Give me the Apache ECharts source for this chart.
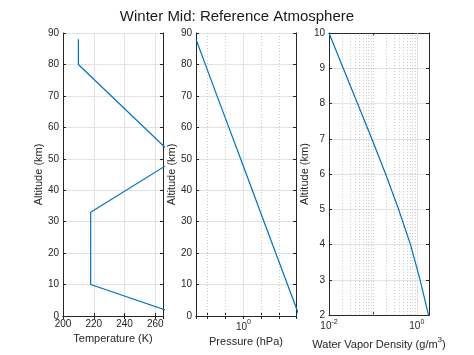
<!DOCTYPE html>
<html>
<head>
<meta charset="utf-8">
<script src="https://cdn.jsdelivr.net/npm/echarts@6/dist/echarts.min.js"></script>
<style>html,body{margin:0;padding:0;background:#fff;}#c{width:474px;height:355px;}</style>
</head>
<body>
<div id="c"></div>
<script>
// ---- data ----
const chartTitle = 'Winter Mid: Reference Atmosphere';

const tempK   = [278, 218, 218, 274, 210, 210];
const tempAlt = [0, 10, 33, 50, 80, 88];

const pressureHPa = [1300, 286, 14.1, 0.70, 0.034, 0.0023];
const pressureAlt = [0, 10, 30, 50, 70, 88];

const vaporDensity = [1.85, 1.19, 0.72, 0.385, 0.195, 0.0944, 0.0447, 0.0211, 0.01];
const vaporAlt     = [2, 3, 4, 5, 6, 7, 8, 9, 10];

// axis decorations
const pressureMajorGrid = [1];
const pressureMinorGrid = [0.01, 0.1, 10, 100];
const pressureLabelExps = [0];
const vaporMajorGrid = [1];
const vaporMinorGrid = [0.02,0.03,0.04,0.05,0.06,0.07,0.08,0.09,0.1,0.2,0.3,0.4,0.5,0.6,0.7,0.8,0.9];
const vaporLabelExps = [-2, 0];

const AX = '#262626';
const GRID = '#e2e2e2';
const MINOR = '#c8c8c8';
const LINE = '#0072BD';
const FONT = 'Liberation Sans, Arial, Helvetica, sans-serif';

const grids = [
  {left: 63, top: 33, width: 100, height: 283},
  {left: 196, top: 33, width: 100, height: 283},
  {left: 329, top: 33, width: 100, height: 283}
];

const supRich = {
  b: {fontSize: 10, color: AX, fontFamily: FONT, verticalAlign: 'bottom', padding: [3, 0, 0, 0]},
  s: {fontSize: 7, color: AX, fontFamily: FONT, verticalAlign: 'top'}
};
function logFormatter(exps) {
  return function (v) {
    const l = Math.log10(v);
    const e = Math.round(l);
    if (Math.abs(l - e) > 1e-6) return '';
    if (exps.indexOf(e) < 0) return '';
    return '{b|10}{s|' + e + '}';
  };
}
const tickStyle = {show: true, inside: true, length: 3, lineStyle: {color: AX, width: 1}};
const lineStyleAx = {show: true, lineStyle: {color: AX, width: 1}};
const nameStyle = {fontSize: 11, color: AX, fontFamily: FONT};

function mirrorX(base, gi) {
  return Object.assign({}, base, {gridIndex: gi, position: 'top', name: '', axisLabel: {show: false},
    splitLine: {show: false}, axisLine: lineStyleAx, axisTick: tickStyle});
}
function mirrorY(base, gi) {
  return Object.assign({}, base, {gridIndex: gi, position: 'right', name: '', axisLabel: {show: false},
    splitLine: {show: false}, axisLine: lineStyleAx, axisTick: tickStyle});
}

const x0 = {type: 'value', gridIndex: 0, min: 200, max: 265, interval: 20, position: 'bottom',
  axisLine: lineStyleAx, axisTick: tickStyle,
  axisLabel: {color: AX, fontSize: 10, fontFamily: FONT, margin: 3, showMaxLabel: false},
  splitLine: {show: true, lineStyle: {color: GRID, width: 1}},
  name: 'Temperature (K)', nameLocation: 'middle', nameGap: 12, nameTextStyle: nameStyle};
const x1 = {type: 'log', logBase: 10, gridIndex: 1, min: 0.0023, max: 850, position: 'bottom',
  axisLine: lineStyleAx, axisTick: tickStyle,
  axisLabel: {formatter: logFormatter(pressureLabelExps), rich: supRich, margin: 3, showMaxLabel: false, showMinLabel: false},
  splitLine: {show: false},
  name: 'Pressure (hPa)', nameLocation: 'middle', nameGap: 16, nameTextStyle: nameStyle};
const x2 = {type: 'log', logBase: 10, gridIndex: 2, min: 0.01, max: 1.9, position: 'bottom',
  axisLine: lineStyleAx, axisTick: tickStyle,
  axisLabel: {formatter: logFormatter(vaporLabelExps), rich: supRich, margin: 3, showMaxLabel: false},
  splitLine: {show: false},
  name: '{n|Water Vapor Density (g/m}{s|3}{n|)}', nameLocation: 'middle', nameGap: 16,
  nameTextStyle: {fontSize: 11, color: AX, fontFamily: FONT, rich: {
    n: {fontSize: 11, color: AX, fontFamily: FONT, verticalAlign: 'bottom', padding: [3, 0, 0, 0]},
    s: {fontSize: 8, color: AX, fontFamily: FONT, verticalAlign: 'top'}}}};

function yAxisFor(gi, min, max, interval) {
  return {type: 'value', gridIndex: gi, min: min, max: max, interval: interval, position: 'left',
    axisLine: lineStyleAx, axisTick: tickStyle,
    axisLabel: {color: AX, fontSize: 10, fontFamily: FONT, margin: 4},
    splitLine: {show: true, lineStyle: {color: GRID, width: 1}},
    name: 'Altitude (km)', nameLocation: 'middle', nameGap: 16, nameTextStyle: nameStyle};
}
const y0 = yAxisFor(0, 0, 90, 10);
const y1 = yAxisFor(1, 0, 90, 10);
const y2 = yAxisFor(2, 2, 10, 1);

function gridLines(major, minor) {
  return {
    silent: true, symbol: 'none', z: 1, animation: false,
    label: {show: false}, emphasis: {disabled: true},
    data: major.map(v => ({xAxis: v, lineStyle: {type: 'solid', color: GRID, width: 1}}))
      .concat(minor.map(v => ({xAxis: v, lineStyle: {type: [1, 2], color: MINOR, width: 1}})))
  };
}

function lineSeries(xi, xs, ys, ml) {
  const s = {
    type: 'line', xAxisIndex: xi, yAxisIndex: xi, z: 3,
    data: xs.map((x, i) => [x, ys[i]]),
    showSymbol: false, symbol: 'none', clip: true, silent: true,
    lineStyle: {color: LINE, width: 1.2}, itemStyle: {color: LINE}
  };
  if (ml) s.markLine = ml;
  return s;
}

const chart = echarts.init(document.getElementById('c'), null, {renderer: 'canvas'});
chart.setOption({
  animation: false,
  backgroundColor: '#fff',
  textStyle: {fontFamily: FONT},
  title: {text: chartTitle, left: 'center', top: 4,
    textStyle: {fontSize: 15, fontWeight: 'normal', color: '#1a1a1a', fontFamily: FONT}},
  grid: grids,
  xAxis: [x0, x1, x2, mirrorX(x0, 0), mirrorX(x1, 1), mirrorX(x2, 2)],
  yAxis: [y0, y1, y2, mirrorY(y0, 0), mirrorY(y1, 1), mirrorY(y2, 2)],
  series: [
    lineSeries(0, tempK, tempAlt, null),
    lineSeries(1, pressureHPa, pressureAlt, gridLines(pressureMajorGrid, pressureMinorGrid)),
    lineSeries(2, vaporDensity, vaporAlt, gridLines(vaporMajorGrid, vaporMinorGrid))
  ]
});
</script>
</body>
</html>
